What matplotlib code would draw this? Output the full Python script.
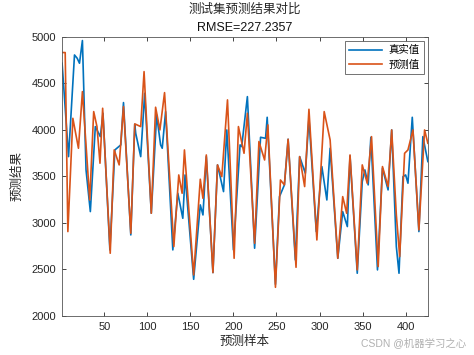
import matplotlib
matplotlib.use("Agg")
import matplotlib.pyplot as plt

plt.rcParams['font.family'] = ['Liberation Sans', 'Noto Sans CJK SC', 'DejaVu Sans']

# values (sample index, value) at turning points
true_x = [1, 8.5, 15.4, 18.5, 21.2, 24.6, 28.8, 33.8, 39.6, 45.4, 48.5, 56.5, 62.3, 69.2,
          72.3, 80.8, 85.4, 86.5, 92.3, 96.9, 104.6, 110.8, 115.4, 117.3, 121.2, 129.6,
          135.4, 141.2, 143.8, 153.8, 161.5, 164.6, 168.5, 176.2, 181.5, 188.5, 192.3,
          200, 207.7, 209.6, 216.2, 224.6, 231.5, 237.3, 239.2, 248.8, 253.5, 259.2,
          263.5, 271.9, 276.9, 283.5, 287.7, 296.2, 302.7, 308.5, 312.3, 321.2, 326.9,
          332.3, 335.4, 343.8, 349.6, 352.7, 356.5, 359.6, 367.3, 373.1, 379.6, 383.8,
          389.2, 392.3, 396.9, 400, 402.7, 407.7, 415.4, 420, 425.8]
true_y = [4717, 3713, 4806, 4771, 4717, 4961, 3570, 3122, 4036, 3928, 4179, 2710, 3785, 3839,
          4294, 2871, 4061, 3964, 3713, 4394, 3104, 4161, 3839, 3803, 4197, 2710,
          3319, 3050, 3516, 2394, 3194, 3086, 3713, 2466, 3624, 3337, 4000,
          2710, 3839, 3821, 4358, 2728, 3921, 3910, 4136, 2340, 3283, 3409,
          3900, 2602, 3713, 3534, 4125, 2907, 3606, 3247, 3803, 2620, 3122,
          2961, 3720, 2459, 3444, 3570, 3409, 3921, 2495, 3588, 3355, 4000,
          2746, 2459, 3498, 3516, 3427, 4136, 2907, 3928, 3660]

pred_x = [1, 4.6, 7.7, 13.5, 20, 24.6, 33.1, 37.7, 41.5, 45, 48.1, 56.9, 61.5, 67.3, 72.3,
          80.8, 85.4, 92.3, 96.2, 104.6, 109.6, 114.6, 120, 130.8, 136.5, 140.4, 143.1,
          153.8, 161.5, 164.6, 168.5, 176.2, 181.5, 186.5, 193.1, 200.8, 205.8, 212.3,
          216.2, 224.6, 229.6, 236.2, 240, 248.8, 254.6, 259.2, 263.5, 272.7, 276.9,
          282.7, 287.7, 296.9, 305.4, 312.3, 321.2, 326.9, 331.5, 335.4, 343.8, 349.6,
          355.4, 360.4, 368.1, 373.1, 379.6, 383.8, 389.2, 393.1, 398.8, 402.7, 408.5,
          415.4, 422, 425.8]
pred_y = [4832, 4832, 2907, 4125, 3803, 4412, 3247, 4197, 4036, 3642, 4233, 2674, 3785, 3624, 4251,
          2889, 4065, 4036, 4627, 3104, 4244, 4000, 4401, 2746, 3516, 3319, 3785,
          2441, 3470, 3265, 3731, 2466, 3624, 3498, 4323, 2620, 4036, 3749,
          4179, 2781, 3875, 3677, 4054, 2308, 3462, 3409, 3900, 2523, 3713,
          3391, 4222, 2817, 4197, 3892, 2620, 3283, 3104, 3731, 2495, 3624,
          3427, 3928, 2531, 3606, 3391, 4000, 3086, 2638, 3749, 3785, 4000,
          2925, 4000, 3857]

xticks = [50, 100, 150, 200, 250, 300, 350, 400]
yticks = [2000, 2500, 3000, 3500, 4000, 4500, 5000]

fig = plt.figure(figsize=(4.74, 3.55), dpi=100)
ax = fig.add_axes([0.131, 0.110, 0.772, 0.786])

ax.plot(true_x, true_y, color='#0072BD', lw=1.2, label='真实值')
ax.plot(pred_x, pred_y, color='#D95319', lw=1.2, label='预测值')

ax.set_xlim(1, 426)
ax.set_ylim(2000, 5000)
ax.set_xticks(xticks)
ax.set_yticks(yticks)
ax.tick_params(direction='in', top=True, right=True, length=3, width=0.6,
               labelsize=8, colors='#262626', pad=4)
for sp in ax.spines.values():
    sp.set_linewidth(0.6)
    sp.set_color('#555555')

ax.set_xlabel('预测样本', fontsize=9, color='#262626', labelpad=3)
ax.set_ylabel('预测结果', fontsize=9, color='#262626', labelpad=6)

fig.text(0.517, 0.972, '测试集预测结果对比', ha='center', va='center', fontsize=9, color='#262626')
fig.text(0.517, 0.921, 'RMSE=227.2357', ha='center', va='center', fontsize=9, color='#111111')

leg = ax.legend(loc='upper right', fontsize=7.5, frameon=True, fancybox=False,
                edgecolor='#333333', handlelength=3.2, borderpad=0.4, labelspacing=0.45,
                handletextpad=0.6, borderaxespad=0.4)
leg.get_frame().set_linewidth(0.6)

fig.text(0.983, 0.036, 'CSDN @机器学习之心', ha='right', va='center', fontsize=7.5, color='#b0b0b0')

fig.savefig('out.png', dpi=100)
